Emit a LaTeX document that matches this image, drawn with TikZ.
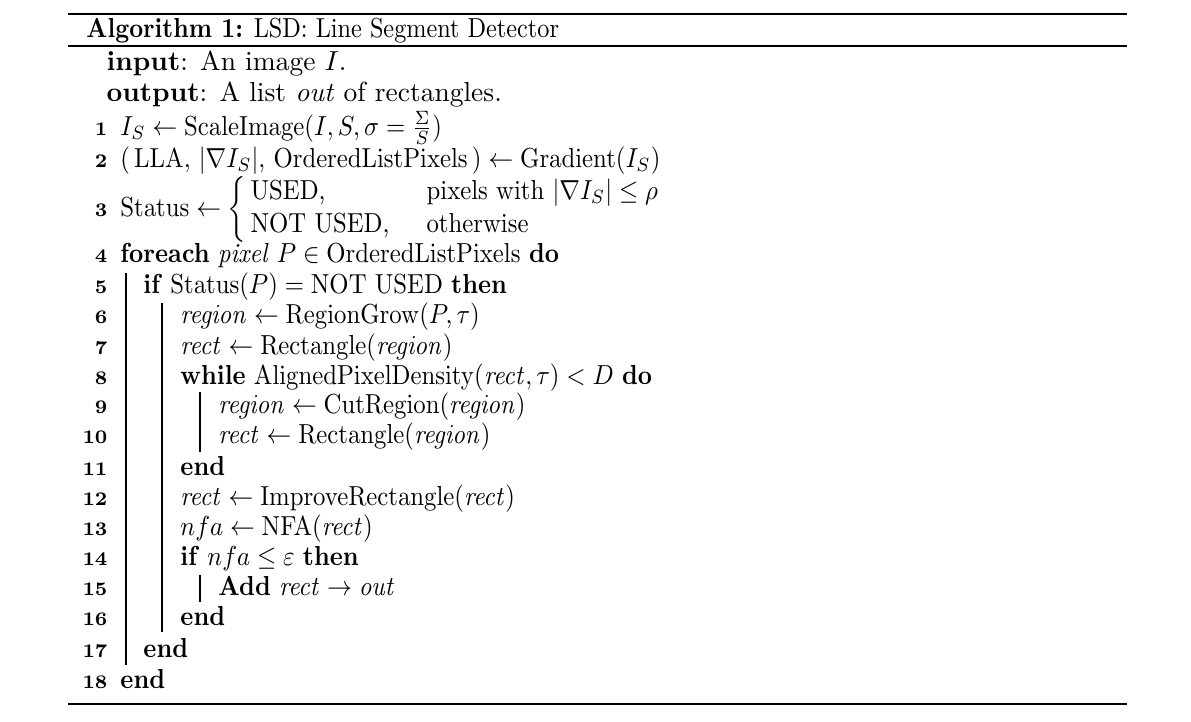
\documentclass[tikz,border=0pt]{standalone}
\usepackage{amsmath,amssymb}
\begin{document}
\begin{tikzpicture}[x=0.3636pt,y=-0.3636pt,
  t/.style={anchor=base west,inner sep=0pt,xscale=0.9,transform shape},
  n/.style={anchor=base east,inner sep=0pt,font=\scriptsize\bfseries},
  bar/.style={line width=0.4pt},
  rule/.style={line width=0.8pt}]
\useasboundingbox (0,0) rectangle (1191,721);
\draw[rule] (68,14) -- (1127,14);
\draw[bar] (68,46) -- (1127,46);
\draw[rule] (68,704) -- (1127,704);
\node[t,xscale=0.98] (title) at (86,37) {\textbf{Algorithm 1:} LSD: Line Segment Detector};
\node[anchor=base west,inner sep=0pt] (in) at (106,70) {\textbf{input}: An image $I$.};
\node[anchor=base west,inner sep=0pt] (out) at (106,101) {\textbf{output}: A list \textit{out} of rectangles.};
\foreach \k/\y in {1/135,2/167,3/216,4/262,5/293,6/323,7/354,8/384,9/413,10/443,11/475,12/505,13/535,14/565,15/595,16/625,17/657,18/688}
  \node[n] (n\k) at (108,\y) {\k};
\node[t] (l1) at (120,135) {$I_S \leftarrow \mathrm{ScaleImage}(I,S,\sigma=\frac{\Sigma}{S})$};
\node[t] (l2) at (120,167) {$(\,\mathrm{LLA},\,|\nabla I_S|,\,\mathrm{OrderedListPixels}\,)\leftarrow\mathrm{Gradient}(I_S)$};
\node[t] (l3) at (120,216) {$\mathrm{Status}\leftarrow\left\{\begin{array}{@{\,}l@{\hspace{1.5em}}l}\text{USED,} & \text{pixels with } |\nabla I_S|\le\rho\\ \text{NOT USED,} & \text{otherwise}\end{array}\right.$};
\node[t] (l4) at (120,262) {\textbf{foreach} \textit{pixel} $P\in\mathrm{OrderedListPixels}$ \textbf{do}};
\node[t] (l5) at (143,293) {\textbf{if} $\mathrm{Status}(P)=\text{NOT USED}$ \textbf{then}};
\node[t] (l6) at (180,323) {$\mathit{region}\leftarrow\mathrm{RegionGrow}(P,\tau)$};
\node[t] (l7) at (180,354) {$\mathit{rect}\leftarrow\mathrm{Rectangle}(\mathit{region})$};
\node[t] (l8) at (180,384) {\textbf{while} $\mathrm{AlignedPixelDensity}(\mathit{rect},\tau)<D$ \textbf{do}};
\node[t] (l9) at (218,413) {$\mathit{region}\leftarrow\mathrm{CutRegion}(\mathit{region})$};
\node[t] (l10) at (218,443) {$\mathit{rect}\leftarrow\mathrm{Rectangle}(\mathit{region})$};
\node[t] (l11) at (180,475) {\textbf{end}};
\node[t] (l12) at (180,505) {$\mathit{rect}\leftarrow\mathrm{ImproveRectangle}(\mathit{rect})$};
\node[t] (l13) at (180,535) {$nfa\leftarrow\mathrm{NFA}(\mathit{rect})$};
\node[t] (l14) at (180,565) {\textbf{if} $nfa\le\varepsilon$ \textbf{then}};
\node[t] (l15) at (218,595) {\textbf{Add} $\mathit{rect}\rightarrow\mathit{out}$};
\node[t] (l16) at (180,625) {\textbf{end}};
\node[t] (l17) at (143,657) {\textbf{end}};
\node[t] (l18) at (120,688) {\textbf{end}};
\draw[bar] (126,273) -- (126,665);
\draw[bar] (162,303) -- (162,632);
\draw[bar] (200,392) -- (200,452);
\draw[bar] (200,575) -- (200,602);
\end{tikzpicture}
\end{document}
